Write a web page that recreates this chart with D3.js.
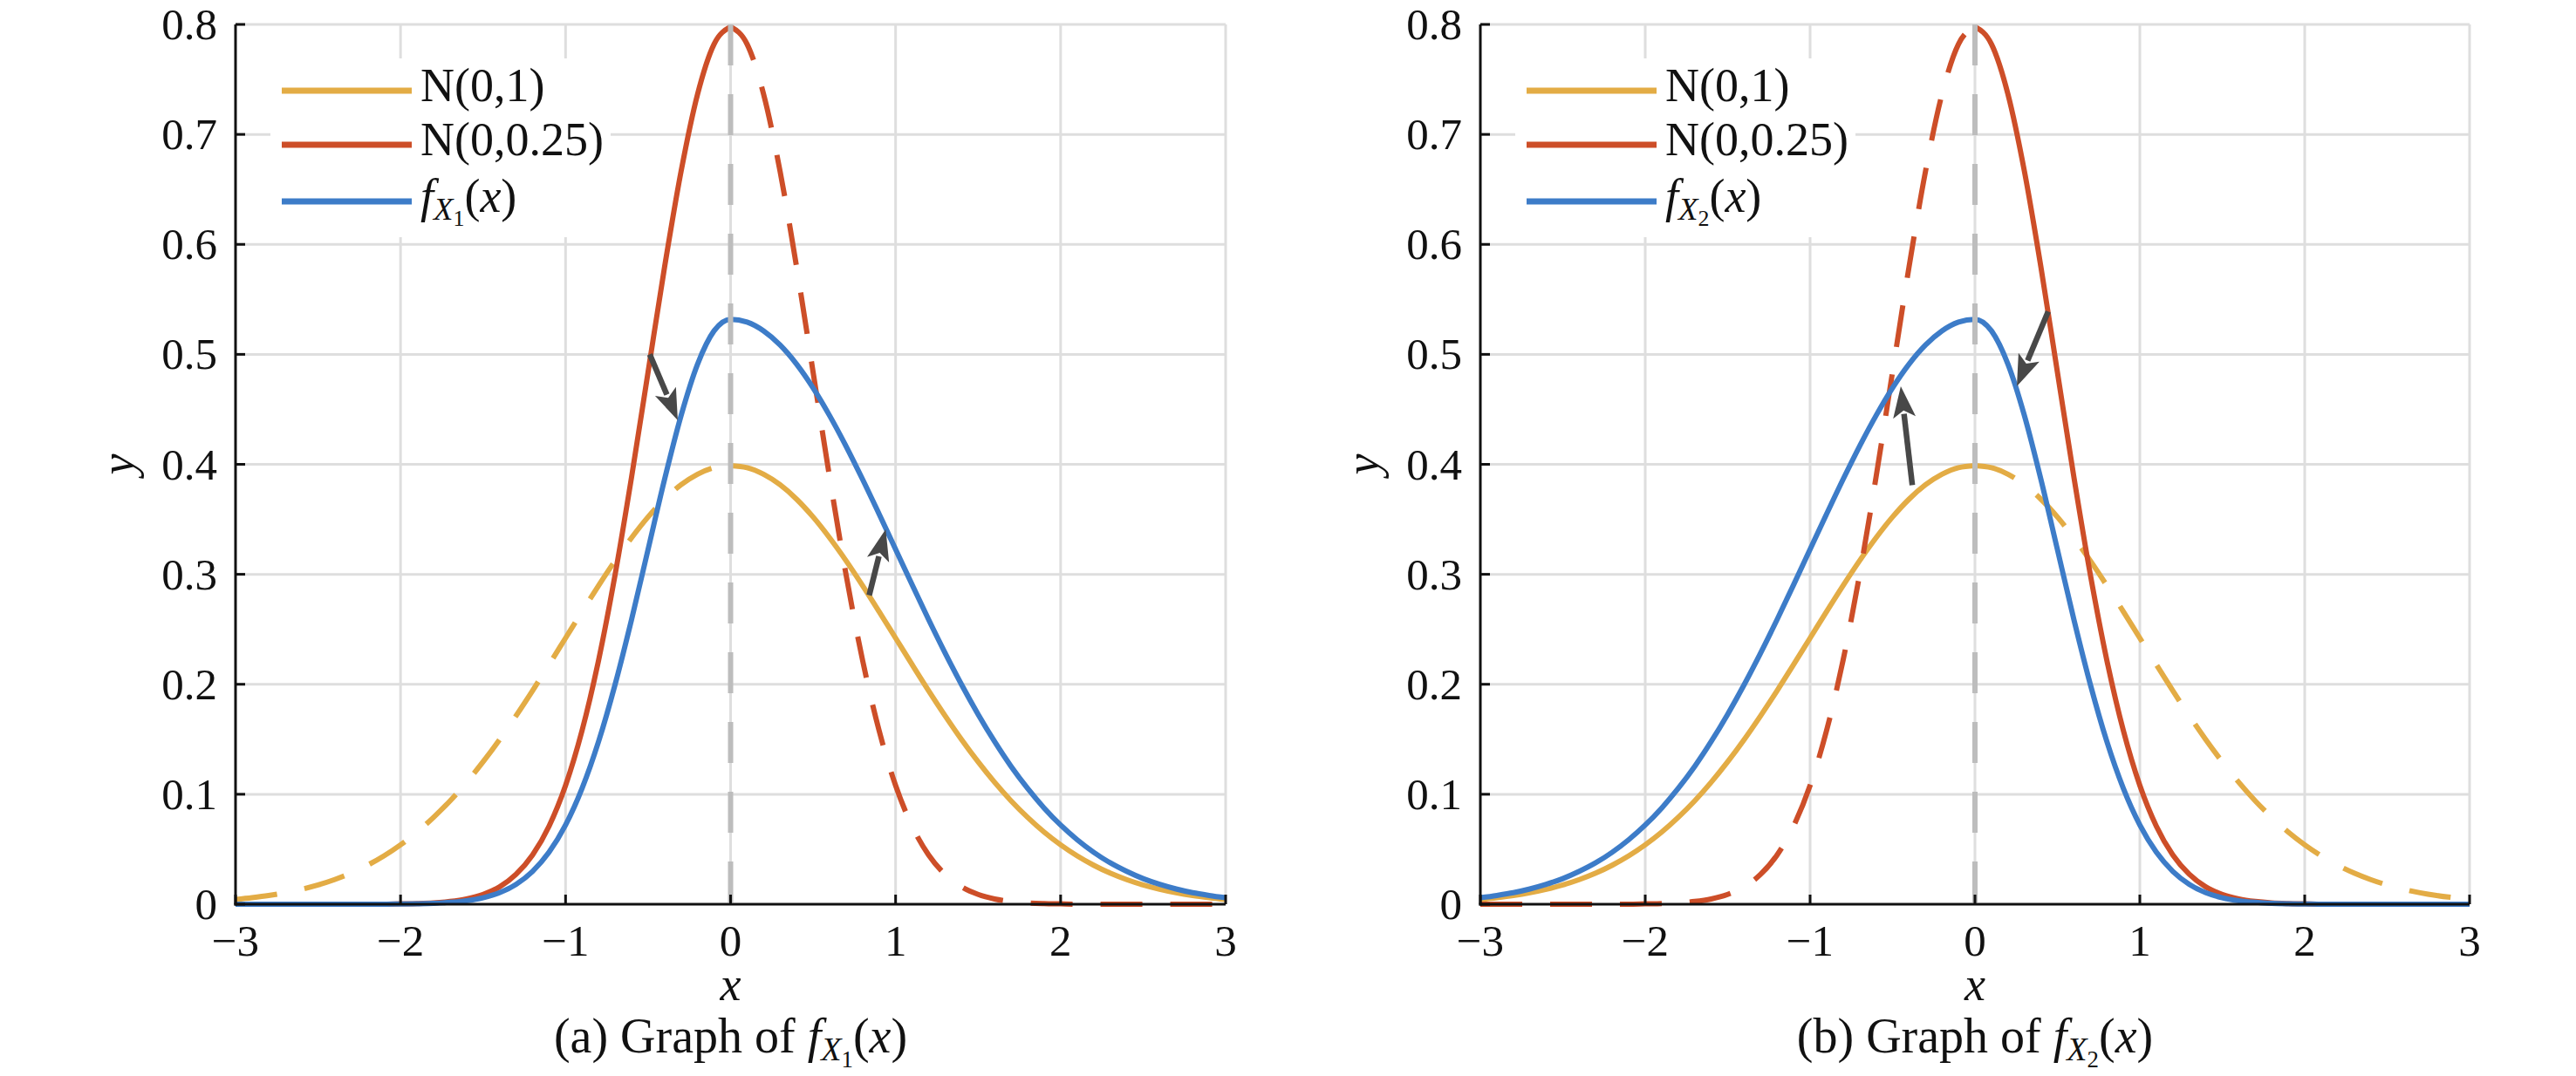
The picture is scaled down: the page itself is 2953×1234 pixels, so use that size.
<!DOCTYPE html>
<html>
<head>
<meta charset="UTF-8">
<script src="https://d3js.org/d3.v7.min.js"></script>
<style>
  body { margin: 0; background: #fff; }
  svg text { font-family: "Liberation Serif", "Times New Roman", "DejaVu Serif", serif; fill: #111; }
</style>
</head>
<body>
<svg id="chart"></svg>
<script>
// sample positions (x from -3 to 3, step 0.1)
const xs = [-3.0,-2.9,-2.8,-2.7,-2.6,-2.5,-2.4,-2.3,-2.2,-2.1,-2.0,-1.9,-1.8,-1.7,-1.6,-1.5,-1.4,-1.3,-1.2,-1.1,-1.0,-0.9,-0.8,-0.7,-0.6,-0.5,-0.4,-0.3,-0.2,-0.1,
  0.0,0.1,0.2,0.3,0.4,0.5,0.6,0.7,0.8,0.9,1.0,1.1,1.2,1.3,1.4,1.5,1.6,1.7,1.8,1.9,2.0,2.1,2.2,2.3,2.4,2.5,2.6,2.7,2.8,2.9,3.0];

// N(0,1)
const n01 = [0.0044,0.0060,0.0079,0.0104,0.0136,0.0175,0.0224,0.0283,0.0355,0.0440,0.0540,0.0656,0.0790,0.0940,0.1109,0.1295,0.1497,0.1714,0.1942,0.2179,0.2420,0.2661,0.2897,0.3123,0.3332,0.3521,0.3683,0.3814,0.3910,0.3970,
  0.3989,0.3970,0.3910,0.3814,0.3683,0.3521,0.3332,0.3123,0.2897,0.2661,0.2420,0.2179,0.1942,0.1714,0.1497,0.1295,0.1109,0.0940,0.0790,0.0656,0.0540,0.0440,0.0355,0.0283,0.0224,0.0175,0.0136,0.0104,0.0079,0.0060,0.0044];

// N(0,0.25)
const n025 = [0,0,0,0,0,0,0,0,0,0,0.0003,0.0006,0.0012,0.0025,0.0048,0.0089,0.0158,0.0272,0.0448,0.0710,0.1080,0.1579,0.2218,0.2995,0.3884,0.4839,0.5794,0.6664,0.7366,0.7821,
  0.7979,0.7821,0.7366,0.6664,0.5794,0.4839,0.3884,0.2995,0.2218,0.1579,0.1080,0.0710,0.0448,0.0272,0.0158,0.0089,0.0048,0.0025,0.0012,0.0006,0.0003,0,0,0,0,0,0,0,0,0,0];

// f_X1(x)
const fX1 = [0,0,0,0,0,0,0,0,0,0,0.0002,0.0004,0.0008,0.0017,0.0032,0.0059,0.0105,0.0181,0.0299,0.0473,0.0720,0.1053,0.1479,0.1997,0.2589,0.3226,0.3863,0.4443,0.4911,0.5214,
  0.5319,0.5293,0.5213,0.5085,0.4911,0.4695,0.4443,0.4164,0.3863,0.3548,0.3227,0.2905,0.2589,0.2285,0.1996,0.1727,0.1479,0.1253,0.1053,0.0875,0.0720,0.0587,0.0473,0.0377,0.0299,0.0233,0.0181,0.0139,0.0105,0.0080,0.0059];

// f_X2(x)
const fX2 = [0.0059,0.0080,0.0105,0.0139,0.0181,0.0233,0.0299,0.0377,0.0473,0.0587,0.0720,0.0875,0.1053,0.1253,0.1479,0.1727,0.1996,0.2285,0.2589,0.2905,0.3227,0.3548,0.3863,0.4164,0.4443,0.4695,0.4911,0.5085,0.5213,0.5293,
  0.5319,0.5214,0.4911,0.4443,0.3863,0.3226,0.2589,0.1997,0.1479,0.1053,0.0720,0.0473,0.0299,0.0181,0.0105,0.0059,0.0032,0.0017,0.0008,0.0004,0.0002,0,0,0,0,0,0,0,0,0,0];

const xTicks = [-3, -2, -1, 0, 1, 2, 3];
const xTickLabels = ["\u22123", "\u22122", "\u22121", "0", "1", "2", "3"];
const yTicks = [0, 0.1, 0.2, 0.3, 0.4, 0.5, 0.6, 0.7, 0.8];
const yTickLabels = ["0", "0.1", "0.2", "0.3", "0.4", "0.5", "0.6", "0.7", "0.8"];

// arrows: [x start, y start, x tip, y tip]
const arrowsA = [[-0.49, 0.50, -0.32, 0.44], [0.84, 0.281, 0.94, 0.341]];
const arrowsB = [[-0.38, 0.381, -0.45, 0.471], [0.444, 0.539, 0.254, 0.471]];

const colors = { yellow: "#E3AC45", red: "#CD4E28", blue: "#3D7CC8", grid: "#dedede", vline: "#bdbdbd", arrow: "#484848" };
const FONT = '"Liberation Serif", "Times New Roman", "DejaVu Serif", serif';

const W = 2953, H = 1234;
const svg = d3.select("#chart").attr("width", W).attr("height", H).attr("font-family", FONT);
svg.append("rect").attr("width", W).attr("height", H).attr("fill", "#fff");

// write text with italic / subscript parts
function mathText(sel, parts, size) {
  let shift = 0;
  parts.forEach(p => {
    const level = p.sub || 0;
    const target = level === 0 ? 0 : (level === 1 ? size * 0.16 : size * 0.3);
    const fs = level === 0 ? size : (level === 1 ? size * 0.68 : size * 0.48);
    sel.append("tspan")
      .attr("dy", target - shift)
      .attr("font-size", fs)
      .attr("font-style", p.i ? "italic" : "normal")
      .text(p.t);
    shift = target;
  });
}

function drawPanel(opts) {
  const x = d3.scaleLinear().domain([-3, 3]).range([opts.left, opts.right]);
  const y = d3.scaleLinear().domain([0, 0.8]).range([1037, 28]);
  const g = svg.append("g");

  // grid
  g.selectAll(".vg").data(xTicks.slice(1)).join("line")
    .attr("x1", d => x(d)).attr("x2", d => x(d)).attr("y1", y(0)).attr("y2", y(0.8))
    .attr("stroke", colors.grid).attr("stroke-width", 3);
  g.selectAll(".hg").data(yTicks.slice(1)).join("line")
    .attr("x1", x(-3)).attr("x2", x(3)).attr("y1", d => y(d)).attr("y2", d => y(d))
    .attr("stroke", colors.grid).attr("stroke-width", 3);

  const line = d3.line().x(d => x(d[0])).y(d => y(d[1])).curve(d3.curveMonotoneX);
  const pts = arr => xs.map((v, i) => [v, arr[i]]);
  const leftPart = arr => pts(arr).filter(d => d[0] <= 0.001);
  const rightPart = arr => pts(arr).filter(d => d[0] >= -0.001);

  const curves = [
    { data: leftPart(n01), color: colors.yellow, dash: opts.yellowLeftDash },
    { data: rightPart(n01), color: colors.yellow, dash: !opts.yellowLeftDash },
    { data: leftPart(n025), color: colors.red, dash: !opts.yellowLeftDash },
    { data: rightPart(n025), color: colors.red, dash: opts.yellowLeftDash },
    { data: pts(opts.f), color: colors.blue, dash: false }
  ];
  curves.forEach(c => {
    g.append("path").attr("d", line(c.data)).attr("fill", "none")
      .attr("stroke", c.color).attr("stroke-width", 6)
      .attr("stroke-dasharray", c.dash ? "48,32" : null);
  });

  // vertical dashed line at x = 0
  g.append("line").attr("x1", x(0)).attr("x2", x(0)).attr("y1", y(0.8)).attr("y2", y(0))
    .attr("stroke", colors.vline).attr("stroke-width", 6).attr("stroke-dasharray", "47,33");

  // arrows
  opts.arrows.forEach(a => {
    const x1 = x(a[0]), y1 = y(a[1]), x2 = x(a[2]), y2 = y(a[3]);
    const len = Math.hypot(x2 - x1, y2 - y1);
    const ux = (x2 - x1) / len, uy = (y2 - y1) / len;
    const hl = 36, hw = 13;
    const bx = x2 - ux * hl, by = y2 - uy * hl;
    g.append("line").attr("x1", x1).attr("y1", y1).attr("x2", bx + ux * 4).attr("y2", by + uy * 4)
      .attr("stroke", colors.arrow).attr("stroke-width", 6.5);
    g.append("path")
      .attr("d", `M${x2},${y2}L${bx - uy * hw},${by + ux * hw}L${bx + ux * 8},${by + uy * 8}L${bx + uy * hw},${by - ux * hw}Z`)
      .attr("fill", colors.arrow);
  });

  // axes
  g.append("line").attr("x1", x(-3)).attr("x2", x(-3)).attr("y1", y(0) + 1.5).attr("y2", y(0.8))
    .attr("stroke", "#111").attr("stroke-width", 3);
  g.append("line").attr("x1", x(-3) - 1.5).attr("x2", x(3)).attr("y1", y(0)).attr("y2", y(0))
    .attr("stroke", "#111").attr("stroke-width", 3);
  g.selectAll(".yt").data(yTicks).join("line")
    .attr("x1", x(-3)).attr("x2", x(-3) + 11).attr("y1", d => y(d)).attr("y2", d => y(d))
    .attr("stroke", "#111").attr("stroke-width", 3);
  g.selectAll(".xt").data(xTicks).join("line")
    .attr("x1", d => x(d)).attr("x2", d => x(d)).attr("y1", y(0)).attr("y2", y(0) - 11)
    .attr("stroke", "#111").attr("stroke-width", 3);

  g.selectAll(".ytl").data(yTicks).join("text")
    .attr("x", x(-3) - 21).attr("y", d => y(d) + 17)
    .attr("text-anchor", "end").attr("font-size", 51)
    .text((d, i) => yTickLabels[i]);
  g.selectAll(".xtl").data(xTicks).join("text")
    .attr("x", d => x(d)).attr("y", 1096)
    .attr("text-anchor", "middle").attr("font-size", 51)
    .text((d, i) => xTickLabels[i]);

  g.append("text").attr("x", x(0)).attr("y", 1147).attr("text-anchor", "middle")
    .attr("font-size", 54).attr("font-style", "italic").text("x");
  g.append("text").attr("transform", `translate(${x(-3) - 117},${y(0.4)}) rotate(-90)`)
    .attr("text-anchor", "middle").attr("font-size", 54).attr("font-style", "italic").text("y");

  // legend
  const lg = g.append("g");
  lg.append("rect").attr("x", x(-3) + 40).attr("y", 67).attr("width", 390).attr("height", 205).attr("fill", "#fff");
  const legendRows = [
    { color: colors.yellow, parts: [{ t: "N(0,1)" }] },
    { color: colors.red, parts: [{ t: "N(0,0.25)" }] },
    { color: colors.blue, parts: [{ t: "f", i: 1 }, { t: "X", i: 1, sub: 1 }, { t: opts.idx, sub: 2 }, { t: "(" }, { t: "x", i: 1 }, { t: ")" }] }
  ];
  const rowY = [104, 166, 231];
  legendRows.forEach((r, i) => {
    lg.append("line").attr("x1", x(-3) + 53).attr("x2", x(-3) + 202).attr("y1", rowY[i]).attr("y2", rowY[i])
      .attr("stroke", r.color).attr("stroke-width", 7);
    const t = lg.append("text").attr("x", x(-3) + 212).attr("y", rowY[i] + 12).attr("font-size", 54);
    mathText(t, r.parts, 54);
  });

  // caption
  const cap = g.append("text").attr("x", x(0)).attr("y", 1207).attr("text-anchor", "middle").attr("font-size", 56);
  mathText(cap, [{ t: opts.tag + " Graph of " }, { t: "f", i: 1 }, { t: "X", i: 1, sub: 1 }, { t: opts.idx, sub: 2 }, { t: "(" }, { t: "x", i: 1 }, { t: ")" }], 56);
}

drawPanel({ left: 270, right: 1405, f: fX1, idx: "1", tag: "(a)", yellowLeftDash: true, arrows: arrowsA });
drawPanel({ left: 1697, right: 2831, f: fX2, idx: "2", tag: "(b)", yellowLeftDash: false, arrows: arrowsB });
</script>
</body>
</html>
